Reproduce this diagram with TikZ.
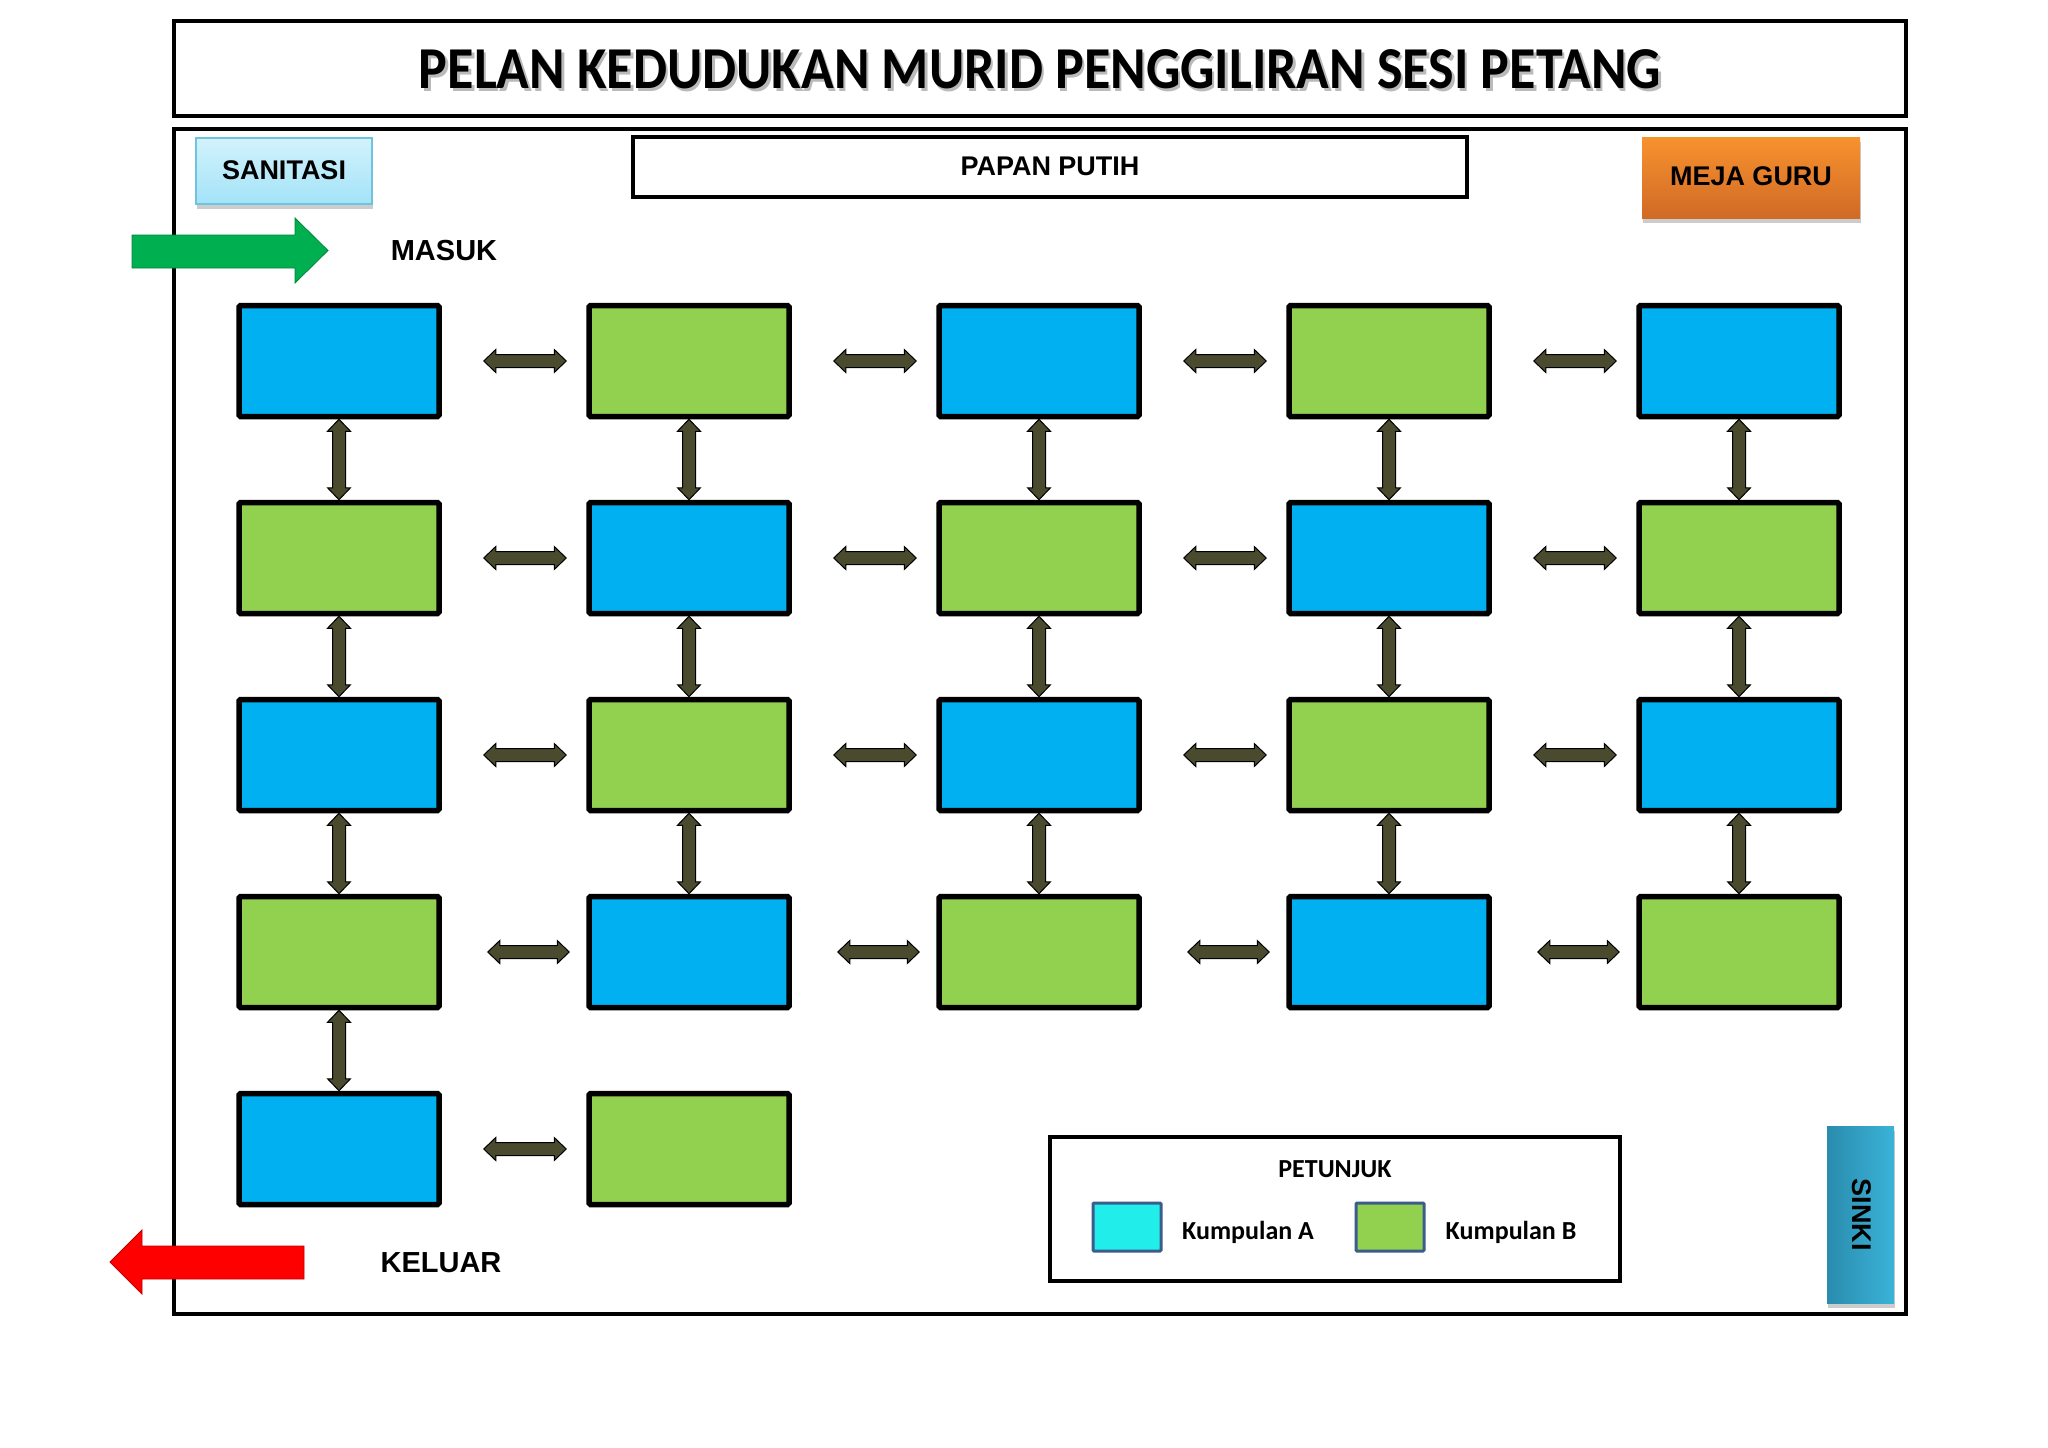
\documentclass[tikz,border=0pt]{standalone}
\usepackage{fontspec}
\setmainfont{Liberation Sans}
\newfontfamily\calib{Carlito}
\usetikzlibrary{calc,shadows}
\definecolor{seatblue}{HTML}{00B0F0}
\definecolor{seatgreen}{HTML}{92D050}
\definecolor{linkc}{HTML}{4A4A2E}
\definecolor{masukc}{HTML}{00B050}
\definecolor{keluarc}{HTML}{FF0000}
\definecolor{legA}{HTML}{21EEEA}
\definecolor{legedge}{HTML}{3B5D8C}
\definecolor{sanitop}{HTML}{D3F2FC}
\definecolor{sanibot}{HTML}{A3E3F8}
\definecolor{saniedge}{HTML}{6FC3DF}
\definecolor{mejatop}{HTML}{F8922E}
\definecolor{mejabot}{HTML}{D06A26}
\definecolor{sinkL}{HTML}{2A8CAE}
\definecolor{sinkR}{HTML}{3AB3D8}
\tikzset{
  seat/.style={draw=black, line width=5.5pt, minimum width=200pt, minimum height=111pt, rounded corners=1.5pt, inner sep=0pt},
  link/.style={fill=linkc, draw=black, line width=1pt, line join=miter},
  lbl/.style={font=\bfseries\fontsize{27}{30}\selectfont, inner sep=0pt},
  biglbl/.style={font=\bfseries\fontsize{29}{32}\selectfont, inner sep=0pt},
  leglbl/.style={font=\calib\bfseries\fontsize{26}{30}\selectfont, inner sep=0pt},
  frame/.style={draw=black, line width=4pt},
  swatch/.style={draw=legedge, line width=3pt, minimum width=68pt, minimum height=48pt, rounded corners=1pt, inner sep=0pt},
  sshadow/.style={drop shadow={shadow xshift=1pt, shadow yshift=-5pt, opacity=0.2, fill=black}},
  titlefont/.style={font=\calib\bfseries\fontsize{54}{60}\selectfont, yscale=1.1},
}
\newcommand\hlink[4]{%
  \draw[link] let \p1=($(#1.east)+(#3pt,0)$), \p2=($(#2.west)+(-#4pt,0)$) in
    (\x1,\y1) -- (\x1+12pt,\y1+11.5pt) -- (\x1+12pt,\y1+6.5pt) -- (\x2-12pt,\y2+6.5pt)
    -- (\x2-12pt,\y2+11.5pt) -- (\x2,\y2) -- (\x2-12pt,\y2-11.5pt) -- (\x2-12pt,\y2-6.5pt)
    -- (\x1+12pt,\y1-6.5pt) -- (\x1+12pt,\y1-11.5pt) -- cycle;}
\newcommand\vlink[2]{%
  \draw[link] let \p1=(#1.south), \p2=(#2.north) in
    (\x1,\y1) -- (\x1+11.5pt,\y1-12pt) -- (\x1+6.5pt,\y1-12pt) -- (\x2+6.5pt,\y2+12pt)
    -- (\x2+11.5pt,\y2+12pt) -- (\x2,\y2) -- (\x2-11.5pt,\y2+12pt) -- (\x2-6.5pt,\y2+12pt)
    -- (\x1-6.5pt,\y1-12pt) -- (\x1-11.5pt,\y1-12pt) -- cycle;}
\begin{document}
\begin{tikzpicture}[x=1pt,y=-1pt]
\useasboundingbox (0,0) rectangle (2048,1448);
\fill[white] (0,0) rectangle (2048,1448);
% title
\node[frame, minimum width=1732pt, minimum height=95pt, inner sep=0pt] (titlebox) at (1040,68.5) {};
\node[titlefont, text=black!45, opacity=0.6] (titleshadow) at (1042.5,72) {PELAN KEDUDUKAN MURID PENGGILIRAN SESI PETANG};
\node[titlefont] (title) at (1040,69.5) {PELAN KEDUDUKAN MURID PENGGILIRAN SESI PETANG};
% room
\node[frame, minimum width=1732pt, minimum height=1185pt, inner sep=0pt] (room) at (1040,721.5) {};
% top furniture
\node[sshadow, draw=saniedge, line width=1.5pt, top color=sanitop, bottom color=sanibot, minimum width=176pt, minimum height=66pt, inner sep=0pt] (sani) at (284,171) {};
\node[lbl] (sanitext) at (284,170) {SANITASI};
\node[frame, minimum width=834pt, minimum height=60pt, inner sep=0pt] (papan) at (1050,167) {};
\node[lbl] (papantext) at (1050,166) {PAPAN PUTIH};
\node[sshadow, top color=mejatop, bottom color=mejabot, minimum width=218pt, minimum height=81pt, inner sep=0pt] (meja) at (1751,177.5) {};
\node[lbl] (mejatext) at (1751,176.5) {MEJA GURU};
% seats
\foreach \r in {1,...,4} {
  \foreach \c in {1,...,5} {
    \pgfmathtruncatemacro\pty{mod(\r+\c,2)}
    \ifnum\pty=0 \def\fc{seatblue}\else\def\fc{seatgreen}\fi
    \node[seat, fill=\fc] (n-\r-\c) at ({339+350*(\c-1)},{361+197*(\r-1)}) {};
  }
}
\node[seat, fill=seatblue] (n-5-1) at (339,1149) {};
\node[seat, fill=seatgreen] (n-5-2) at (689,1149) {};
% horizontal links
\foreach \r in {1,2,3} {
  \foreach \c [evaluate=\c as \d using int(\c+1)] in {1,...,4} {
    \hlink{n-\r-\c}{n-\r-\d}{42}{20}
  }
}
\foreach \c [evaluate=\c as \d using int(\c+1)] in {1,...,4} {
  \hlink{n-4-\c}{n-4-\d}{46}{17}
}
\hlink{n-5-1}{n-5-2}{42}{20}
% vertical links
\foreach \r [evaluate=\r as \s using int(\r+1)] in {1,2,3} {
  \foreach \c in {1,...,5} {
    \vlink{n-\r-\c}{n-\s-\c}
  }
}
\vlink{n-4-1}{n-5-1}
% entry / exit
\draw[fill=masukc, draw=masukc!75!black, line width=0.8pt] (132,235) -- (295,235) -- (295,218) -- (328,250.5) -- (295,283) -- (295,268) -- (132,268) -- cycle;
\node[biglbl] (masuk) at (444,250.5) {MASUK};
\draw[fill=keluarc, draw=keluarc!75!black, line width=0.8pt] (304,1246) -- (142,1246) -- (142,1230) -- (110,1262) -- (142,1294) -- (142,1279) -- (304,1279) -- cycle;
\node[biglbl] (keluar) at (441,1262.5) {KELUAR};
% legend
\node[frame, minimum width=570pt, minimum height=144pt, inner sep=0pt] (legend) at (1335,1209) {};
\node[leglbl] (petunjuk) at (1335,1169) {PETUNJUK};
\node[swatch, fill=legA] (swA) at (1127,1227) {};
\node[leglbl] (kA) at (1248,1232) {Kumpulan A};
\node[swatch, fill=seatgreen] (swB) at (1390,1227) {};
\node[leglbl] (kB) at (1511,1232) {Kumpulan B};
% sink
\node[sshadow, left color=sinkL, right color=sinkR, minimum width=67pt, minimum height=177pt, inner sep=0pt] (sinki) at (1860.5,1214.5) {};
\node[lbl, rotate=-90] (sinkitext) at (1862,1214.5) {SINKI};
\end{tikzpicture}
\end{document}
